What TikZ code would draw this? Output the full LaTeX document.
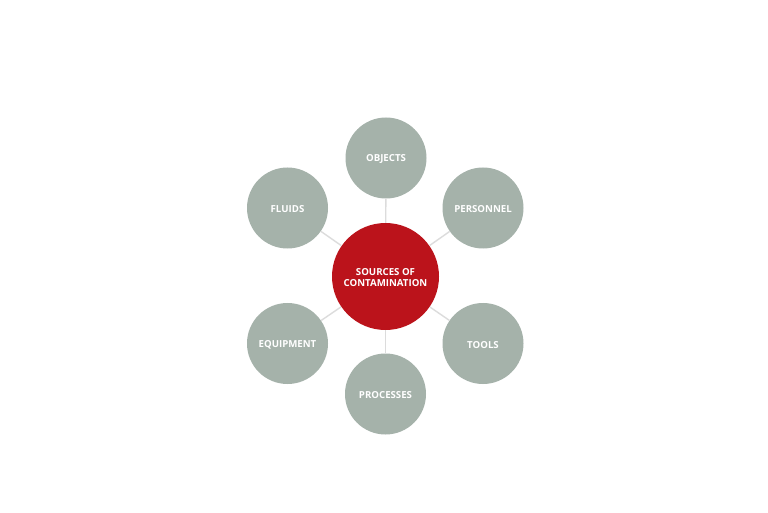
\documentclass[tikz,border=0pt]{standalone}
\usepackage{fontspec}
\setmainfont{Open Sans}
\definecolor{sage}{HTML}{A5B2AA}
\definecolor{crimson}{HTML}{BB131B}
\definecolor{linkgray}{HTML}{DCDCDC}
\begin{document}
\begin{tikzpicture}[x=1bp,y=-1bp,
  txt/.style={text=white,font=\fontsize{9.7}{11.5}\selectfont\bfseries,align=center,inner sep=0pt},
  hub/.style={circle,fill=crimson,minimum size=107bp,inner sep=0pt},
  leaf/.style={circle,fill=sage,minimum size=81bp,inner sep=0pt},
  link/.style={draw=linkgray,line width=1.4bp}]
\useasboundingbox[fill=white] (0,0) rectangle (768,513);
\node[hub] (hub) at (385.5,276.5) {};
\node[leaf] (objects) at (386,158) {};
\node[leaf] (personnel) at (483,208) {};
\node[leaf] (tools) at (483,343.5) {};
\node[leaf] (processes) at (385.5,394) {};
\node[leaf] (equipment) at (287.5,343.5) {};
\node[leaf] (fluids) at (287.5,208) {};
\foreach \n in {objects,personnel,tools,processes,equipment,fluids}
  \draw[link] (hub) -- (\n);
\node[txt,yshift=-1.2bp] (tobjects) at (objects) {OBJECTS};
\node[txt,yshift=-1.2bp] (tpersonnel) at (personnel) {PERSONNEL};
\node[txt,yshift=-1.2bp] (ttools) at (tools) {TOOLS};
\node[txt,yshift=-1.2bp] (tprocesses) at (processes) {PROCESSES};
\node[txt,yshift=-1.2bp] (tequipment) at (equipment) {EQUIPMENT};
\node[txt,yshift=-1.2bp] (tfluids) at (fluids) {FLUIDS};
\node[txt,yshift=-1.2bp] (thub) at (hub) {SOURCES OF\\CONTAMINATION};
\end{tikzpicture}
\end{document}
